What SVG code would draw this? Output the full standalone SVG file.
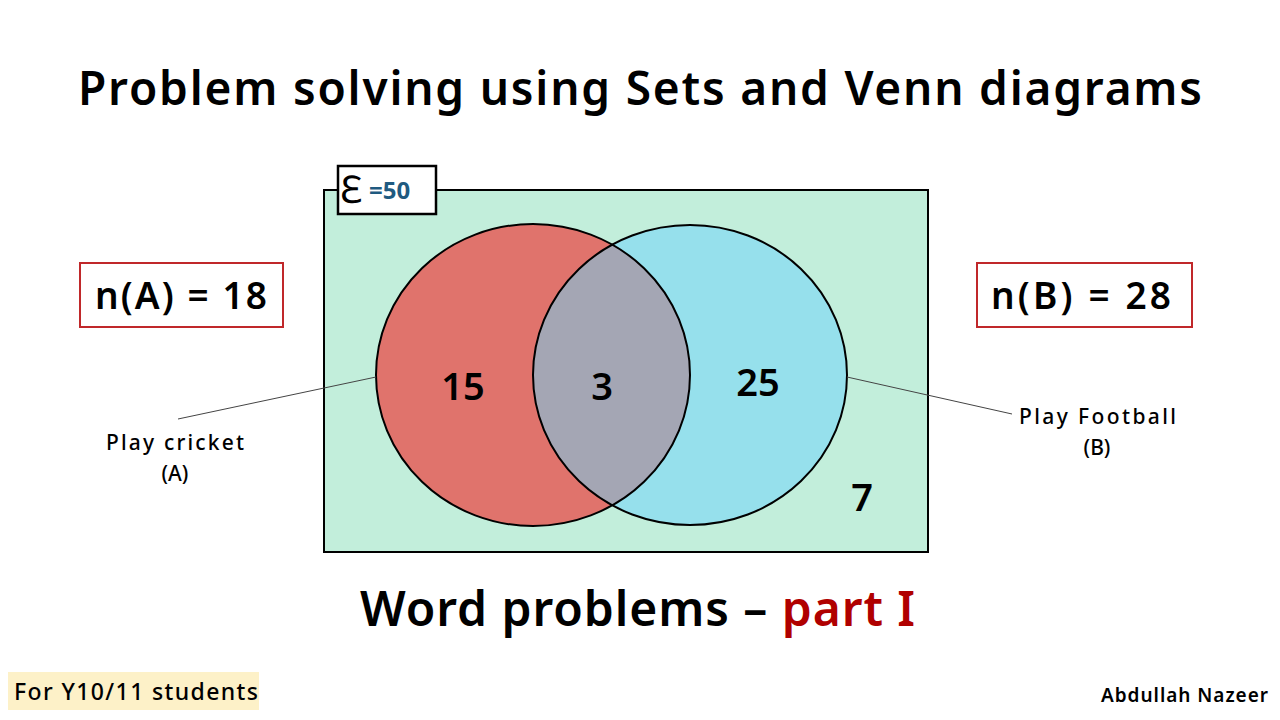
<svg xmlns="http://www.w3.org/2000/svg" width="1280" height="720" viewBox="0 0 1280 720">
<style>
text{font-family:"Noto Sans","Open Sans",sans-serif;fill:#000}
.b{font-weight:bold}
.lab{stroke:#c0282a;stroke-width:2;fill:#fff}
.ln{stroke:#444;stroke-width:1}
</style>
<defs><clipPath id="cA"><ellipse cx="533" cy="375" rx="157" ry="151"/></clipPath></defs>
<rect width="1280" height="720" fill="#fff"/>
<text x="78" y="105" font-size="46" font-weight="600" textLength="1124" lengthAdjust="spacing">Problem solving using Sets and Venn diagrams</text>
<g id="universe">
<rect x="324" y="190" width="604" height="362" fill="#c2eedb" stroke="#000" stroke-width="2"/>
<rect x="338" y="166" width="98" height="48" fill="#fff" stroke="#000" stroke-width="2.5"/>
<text x="340" y="203" font-size="38">ℇ</text>
<text x="369" y="199" font-size="24" class="b" style="fill:#1f5a80">=50</text>
</g>
<g id="setA"><ellipse cx="533" cy="375" rx="157" ry="151" fill="#e0736c"/></g>
<g id="setB"><ellipse cx="690" cy="375" rx="157" ry="150" fill="#96e0ec"/></g>
<g id="intersection"><ellipse cx="690" cy="375" rx="157" ry="150" fill="#a4a6b4" clip-path="url(#cA)"/></g>
<g id="outlines" fill="none" stroke="#000" stroke-width="2">
<ellipse cx="533" cy="375" rx="157" ry="151"/>
<ellipse cx="690" cy="375" rx="157" ry="150"/>
</g>
<text x="463" y="400" font-size="38" text-anchor="middle" font-weight="600">15</text>
<text x="602" y="400" font-size="38" text-anchor="middle" font-weight="600">3</text>
<text x="758" y="396" font-size="38" text-anchor="middle" font-weight="600">25</text>
<text x="862" y="511" font-size="38" text-anchor="middle" font-weight="600">7</text>
<g id="nA"><rect x="80" y="263" width="203" height="64" class="lab"/><text x="95" y="309" font-size="37" font-weight="600" textLength="172" lengthAdjust="spacing">n(A) = 18</text></g>
<g id="nB"><rect x="977" y="263" width="215" height="64" class="lab"/><text x="991" y="309" font-size="37" font-weight="600" textLength="180" lengthAdjust="spacing">n(B) = 28</text></g>
<g id="connectors">
<line x1="376" y1="377" x2="178" y2="419" class="ln"/>
<line x1="847" y1="377" x2="1012" y2="414" class="ln"/>
</g>
<text x="106" y="450" font-size="21" font-weight="500" textLength="138" lengthAdjust="spacing">Play cricket</text>
<text x="175" y="481" font-size="21" text-anchor="middle" font-weight="500">(A)</text>
<text x="1019" y="424" font-size="21" font-weight="500" textLength="157" lengthAdjust="spacing">Play Football</text>
<text x="1097" y="455" font-size="21" text-anchor="middle" font-weight="500">(B)</text>
<text x="360" y="626" font-size="48" font-weight="600" textLength="555" lengthAdjust="spacing">Word problems – <tspan style="fill:#b00000">part I</tspan></text>
<rect x="8" y="672" width="251" height="38" fill="#fdf1c8"/>
<text x="14" y="700" font-size="23" font-weight="500" textLength="244" lengthAdjust="spacing">For Y10/11 students</text>
<text x="1101" y="702" font-size="19" font-weight="600" textLength="167" lengthAdjust="spacing">Abdullah Nazeer</text>
</svg>
